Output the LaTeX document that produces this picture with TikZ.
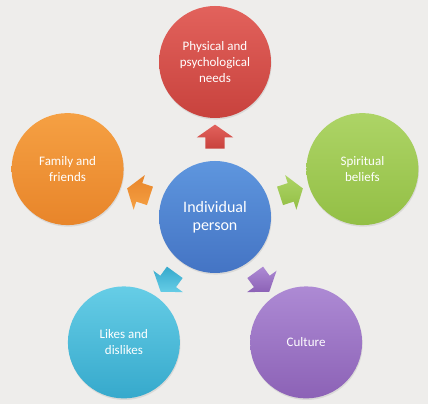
\documentclass[tikz,border=0pt]{standalone}
\usepackage{fontspec}
\setmainfont{Carlito}
\usetikzlibrary{shapes.arrows,shadows,calc}

\definecolor{bgGrey}{HTML}{EEEDEB}
\definecolor{redTop}{HTML}{E2625C}
\definecolor{redBot}{HTML}{C8423D}
\definecolor{oraTop}{HTML}{F5A043}
\definecolor{oraBot}{HTML}{E8852A}
\definecolor{grnTop}{HTML}{ADD466}
\definecolor{grnBot}{HTML}{93BF45}
\definecolor{cyaTop}{HTML}{66CDE6}
\definecolor{cyaBot}{HTML}{36A9CC}
\definecolor{purTop}{HTML}{AD8AD4}
\definecolor{purBot}{HTML}{8C62B6}
\definecolor{bluTop}{HTML}{5E96DE}
\definecolor{bluBot}{HTML}{4474C4}

\begin{document}
\begin{tikzpicture}[x=1pt,y=1pt,
	ball/.style={circle,minimum size=112pt,inner sep=0pt,align=center,text=white,
		font=\fontsize{13}{16}\selectfont,
		drop shadow={opacity=0.18,shadow xshift=0.6pt,shadow yshift=-1.6pt}},
	blk/.style={single arrow,minimum height=24pt,inner xsep=0pt,inner ysep=9.5pt,
		single arrow head extend=8.5pt,single arrow tip angle=110}]
	\fill[bgGrey] (0,0) rectangle (428,404);
	\useasboundingbox (0,0) rectangle (428,404);
	% centre and the five around it
	\node[ball,top color=bluTop,bottom color=bluBot,font=\fontsize{16}{18.5}\selectfont] (ind) at (215,187) {Individual\\person};
	\node[ball,top color=redTop,bottom color=redBot] (needs) at ($(ind)+(90:155)$) {Physical and\\psychological\\needs};
	\node[ball,top color=oraTop,bottom color=oraBot] (family) at ($(ind)+(162:155)$) {Family and\\friends};
	\node[ball,top color=grnTop,bottom color=grnBot] (belief) at ($(ind)+(18:155)$) {Spiritual\\beliefs};
	\node[ball,top color=cyaTop,bottom color=cyaBot] (likes) at ($(ind)+(234:155)$) {Likes and\\dislikes};
	\node[ball,top color=purTop,bottom color=purBot] (culture) at ($(ind)+(306:155)$) {Culture};
	% block arrows
	\node[blk,rotate=90,top color=redTop,bottom color=redBot] (aneeds) at ($(ind)+(90:77)$) {};
	\node[blk,rotate=162,top color=oraBot,bottom color=oraTop] (afamily) at ($(ind)+(162:77)$) {};
	\node[blk,rotate=18,top color=grnTop,bottom color=grnBot] (abelief) at ($(ind)+(18:77)$) {};
	\node[blk,rotate=234,top color=cyaBot,bottom color=cyaTop] (alikes) at ($(ind)+(234:77)$) {};
	\node[blk,rotate=306,top color=purTop,bottom color=purBot] (aculture) at ($(ind)+(306:77)$) {};
\end{tikzpicture}
\end{document}
